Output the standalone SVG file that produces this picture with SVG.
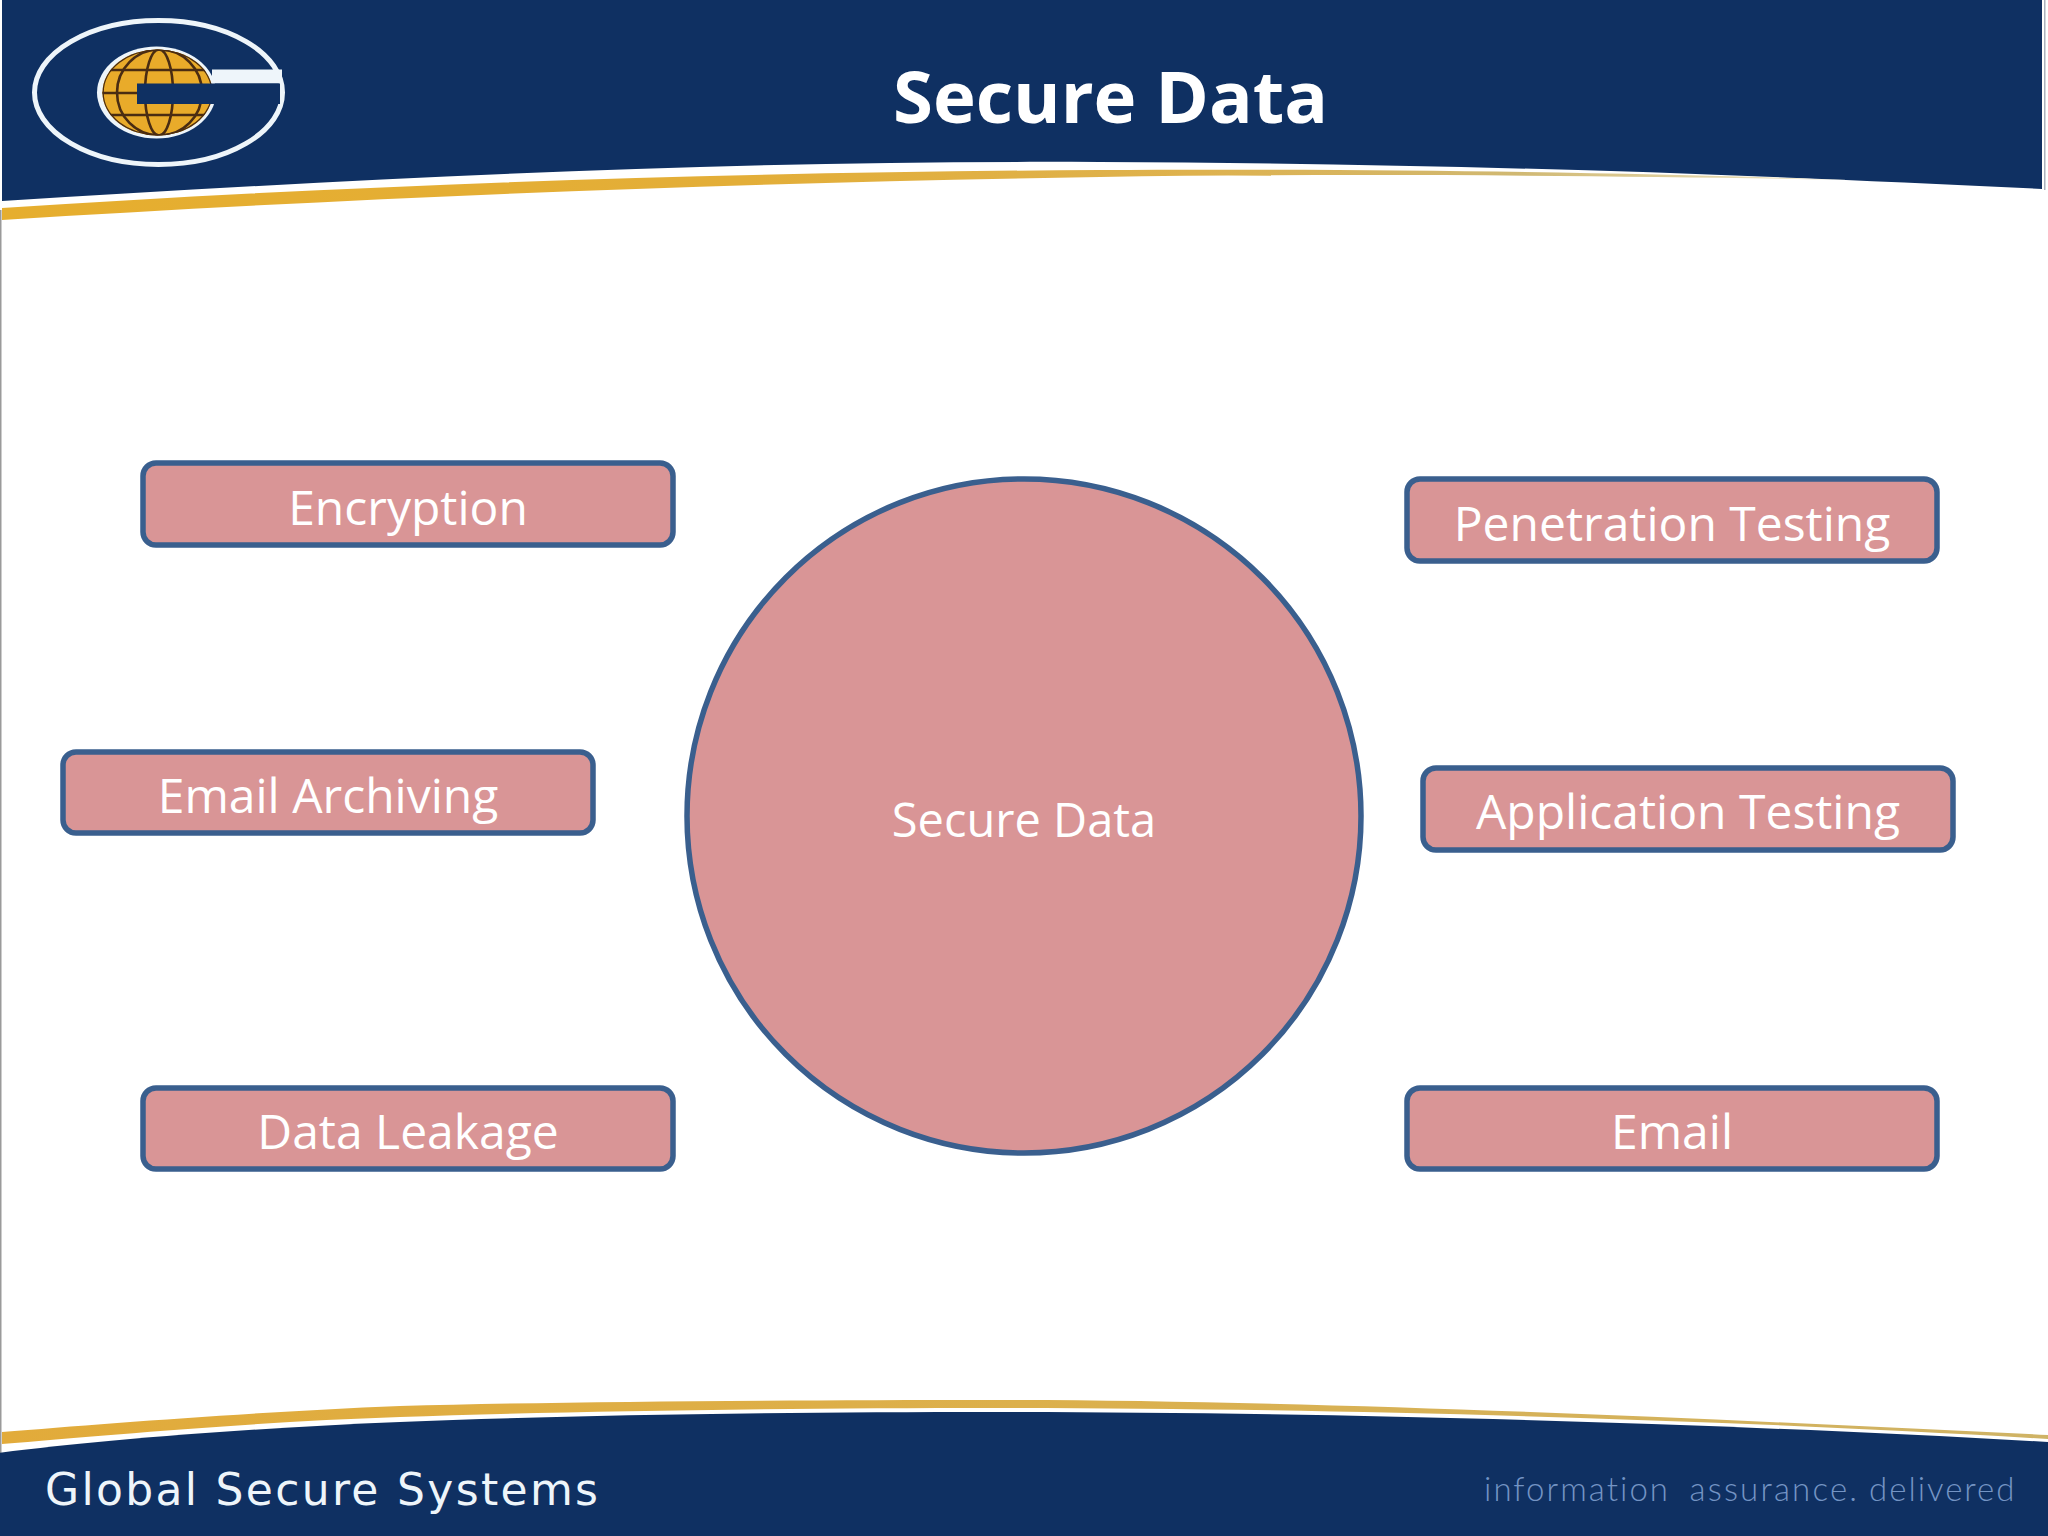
<svg xmlns="http://www.w3.org/2000/svg" width="2048" height="1536" viewBox="0 0 2048 1536">
<style>
.box{fill:#d99596;stroke:#3a5f8e;stroke-width:5.5}
.lbl{font-family:"Open Sans","Noto Sans",sans-serif;font-size:48px;fill:#fff;text-anchor:middle}
.grid{fill:none;stroke:#4a2c12;stroke-width:2.6}
</style>
<defs>
<linearGradient id="goldTop" gradientUnits="userSpaceOnUse" x1="0" x2="1850" y1="0" y2="0"><stop offset="0" stop-color="#e6ae2e"/><stop offset="0.4" stop-color="#e3ae38"/><stop offset="0.65" stop-color="#deb24e"/><stop offset="0.82" stop-color="#d0b872"/><stop offset="1" stop-color="#efe8cc"/></linearGradient>
<linearGradient id="goldBot" gradientUnits="userSpaceOnUse" x1="0" x2="2048" y1="0" y2="0"><stop offset="0" stop-color="#e2ab3a"/><stop offset="0.5" stop-color="#dcb04c"/><stop offset="1" stop-color="#cfb365"/></linearGradient>
<clipPath id="globeClip"><ellipse cx="157.500" cy="92.500" rx="55" ry="43"/></clipPath>
</defs>
<rect width="2048" height="1536" fill="#fff"/>
<rect x="0" y="210" width="1.500" height="1250" fill="#9a9a9a"/>
<g id="header">
<path d="M2 0H2042V189C1700 172 1400 163 1100 162C730 160 370 178 2 201Z" fill="#0f3062"/>
<path d="M2 208C370 184 730 172 1100 170C1400 168.500 1650 173 1850 180C1650 176 1350 173 1100 177C730 183 370 197 2 220Z" fill="url(#goldTop)"/>
<rect x="2044" y="0" width="1.500" height="190" fill="#aab2bd"/>
<text x="1110.500" y="123" font-family="'Open Sans','Noto Sans',sans-serif" font-size="72.500" font-weight="700" fill="#fff" text-anchor="middle">Secure Data</text>
</g>
<g id="logo">
<ellipse cx="158.500" cy="92.500" rx="124" ry="72" fill="none" stroke="#eef5fa" stroke-width="5"/>
<ellipse cx="156.500" cy="92.500" rx="59.500" ry="46" fill="#eef5fa"/>
<ellipse cx="157.500" cy="92.500" rx="55" ry="43" fill="#e9ab2a"/>
<g clip-path="url(#globeClip)">
<ellipse class="grid" cx="157.500" cy="92.500" rx="55" ry="43"/>
<ellipse class="grid" cx="159.500" cy="92.500" rx="42.500" ry="43"/>
<ellipse class="grid" cx="159" cy="92.500" rx="14" ry="43"/>
<path class="grid" d="M100 70H216M100 93H216M100 115H216"/>
</g>
<rect x="212" y="69.500" width="70" height="14" fill="#eef5fa"/>
<rect x="137" y="83.500" width="143" height="20.500" fill="#0f3062"/>
</g>
<g id="node-center">
<circle cx="1024" cy="816" r="337" class="box"/>
<text class="lbl" x="1024" y="837" style="font-size:47px">Secure Data</text>
</g>
<g id="node-encryption"><rect class="box" x="143" y="463" width="530" height="82" rx="13"/><text class="lbl" x="408" y="525">Encryption</text></g>
<g id="node-email-archiving"><rect class="box" x="63" y="752" width="530" height="81" rx="13"/><text class="lbl" x="328" y="813">Email Archiving</text></g>
<g id="node-data-leakage"><rect class="box" x="143" y="1088" width="530" height="81" rx="13"/><text class="lbl" x="408" y="1149">Data Leakage</text></g>
<g id="node-penetration"><rect class="box" x="1407" y="479" width="530" height="82" rx="13"/><text class="lbl" x="1672" y="541">Penetration Testing</text></g>
<g id="node-application"><rect class="box" x="1423" y="768" width="530" height="82" rx="13"/><text class="lbl" x="1688" y="829">Application Testing</text></g>
<g id="node-email"><rect class="box" x="1407" y="1088" width="530" height="81" rx="13"/><text class="lbl" x="1672" y="1149">Email</text></g>
<g id="footer">
<path d="M2 1432C100 1424 250 1412 400 1406C550 1402 750 1400 1000 1400C1300 1400 1700 1418 2048 1435V1439C1700 1418 1300 1408 1000 1408C750 1408 550 1412 400 1417C250 1422 100 1436 2 1444Z" fill="url(#goldBot)"/>
<path d="M0 1452.700C100 1440 250 1428 400 1422C550 1416 750 1412 1000 1412C1300 1412 1700 1422 2048 1442V1536H0Z" fill="#0f3062"/>
<text x="45" y="1505" font-family="'DejaVu Sans',sans-serif" font-size="44" fill="#eef5fa" textLength="553">Global Secure Systems</text>
<text y="1500.500" font-family="Lato,'Noto Sans',sans-serif" font-weight="300" font-size="33" fill="#7494c4" style="font-variant-ligatures:none"><tspan x="1484" textLength="184">information</tspan> <tspan x="1689.500" textLength="167.500">assurance.</tspan> <tspan x="1869" textLength="145.500">delivered</tspan></text>
</g>
</svg>
